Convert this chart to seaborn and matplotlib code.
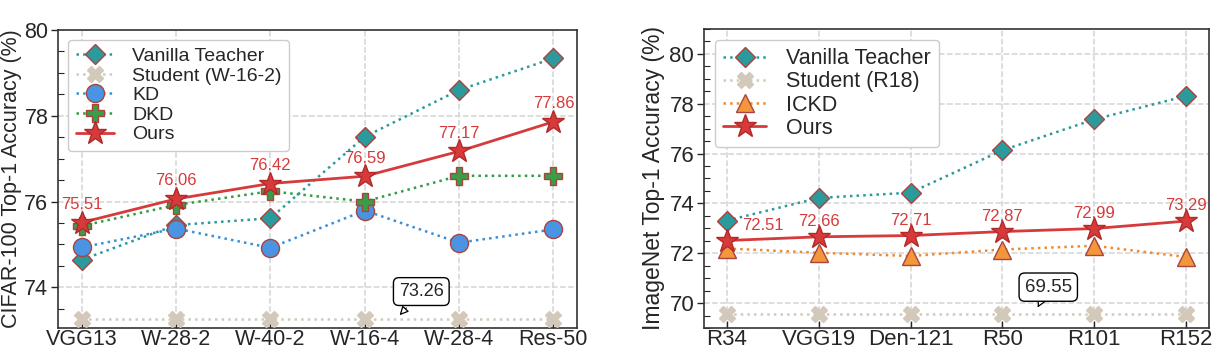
import matplotlib
matplotlib.use("Agg")
import matplotlib.pyplot as plt
from matplotlib.ticker import MultipleLocator
import pandas as pd
import seaborn as sns

# CIFAR-100 panel
cifar_archs = ["VGG13", "W-28-2", "W-40-2", "W-16-4", "W-28-4", "Res-50"]
cifar_teacher = [74.64, 75.45, 75.61, 77.51, 78.60, 79.34]
cifar_student = [73.26, 73.26, 73.26, 73.26, 73.26, 73.26]
cifar_kd = [74.93, 75.37, 74.92, 75.79, 75.04, 75.35]
cifar_dkd = [75.43, 75.92, 76.24, 76.00, 76.60, 76.60]
cifar_ours = [75.51, 76.06, 76.42, 76.59, 77.17, 77.86]

# ImageNet panel
imnet_archs = ["R34", "VGG19", "Den-121", "R50", "R101", "R152"]
imnet_teacher = [73.31, 74.22, 74.43, 76.13, 77.37, 78.31]
imnet_student = [69.55, 69.55, 69.55, 69.55, 69.55, 69.55]
imnet_ickd = [72.19, 72.02, 71.89, 72.15, 72.30, 71.85]
imnet_ours = [72.51, 72.66, 72.71, 72.87, 72.99, 73.29]

EDGE = "#a8453f"
STYLE = {
    "teacher": dict(color="#2a9a9c", marker="D", ms=10.5, ls=":", mfc="#2a9a9c"),
    "student": dict(color="#d3c9bb", marker="X", ms=11, ls=":", mfc="#d3c9bb", mec="#d3c9bb"),
    "kd":      dict(color="#3a8fd8", marker="o", ms=13, ls=":", mfc="#4b93e3"),
    "dkd":     dict(color="#2f9c46", marker="P", ms=13, ls=":", mfc="#3a9d48"),
    "ickd":    dict(color="#f08a30", marker="^", ms=13, ls=":", mfc="#f4963c"),
    "ours":    dict(color="#d63a3a", marker="*", ms=17, ls="-", mfc="#d63a3a", mec="#b02a2a"),
}

sns.set_style("whitegrid", {
    "grid.linestyle": "--",
    "grid.color": "#d4d4d4",
    "axes.edgecolor": "#333333",
    "axes.linewidth": 1.2,
})
plt.rcParams["font.family"] = ["Liberation Sans", "DejaVu Sans"]


def draw(ax, archs, series, lims, ticksize, legsize):
    for key, label, vals in series:
        st = STYLE[key]
        df = pd.DataFrame({"arch": archs, "acc": vals})
        lw = 2.0 if key == "ours" else 1.8
        sns.lineplot(
            data=df, x="arch", y="acc", sort=False, ax=ax, label=label,
            color=st["color"], marker=st["marker"], markersize=st["ms"],
            linestyle=st["ls"], linewidth=lw,
            markerfacecolor=st["mfc"], markeredgecolor=st.get("mec", EDGE),
            markeredgewidth=1.0, zorder=3 if key != "ours" else 4,
        )
    ax.set_xlim(-0.25, len(archs) - 0.75)
    ax.set_ylim(*lims)
    ax.yaxis.set_major_locator(MultipleLocator(2))
    ax.yaxis.set_minor_locator(MultipleLocator(0.5))
    ax.tick_params(axis="y", which="major", direction="out", length=5,
                   width=1, labelsize=ticksize, left=True, pad=2)
    ax.tick_params(axis="y", which="minor", direction="in", length=4,
                   width=0.8, left=True)
    ax.tick_params(axis="x", which="major", direction="in", length=5,
                   width=1, labelsize=ticksize, bottom=True, pad=0.5)
    ax.set_xlabel("")
    ax.grid(True, which="major", linestyle="--", color="#d4d4d4", linewidth=1.1)
    for sp in ax.spines.values():
        sp.set_color("#333333")
        sp.set_linewidth(1.2)
    ax.legend(loc="upper left", fontsize=legsize, labelspacing=0.1,
              handlelength=2.0, handletextpad=0.9, borderpad=0.4,
              frameon=True, facecolor="white", edgecolor="#cccccc",
              fancybox=True, framealpha=1.0, borderaxespad=0.5)


fig = plt.figure(figsize=(12.16, 3.51), dpi=100)
ax1 = fig.add_axes([0.0477, 0.0655, 0.4268, 0.849])
ax2 = fig.add_axes([0.5789, 0.0655, 0.4153, 0.852])

draw(ax1, cifar_archs, [
    ("teacher", "Vanilla Teacher", cifar_teacher),
    ("student", "Student (W-16-2)", cifar_student),
    ("kd", "KD", cifar_kd),
    ("dkd", "DKD", cifar_dkd),
    ("ours", "Ours", cifar_ours),
], (73.05, 80.0), 15.5, 14)
ax1.set_ylabel("CIFAR-100 Top-1 Accuracy (%)", fontsize=15.5, labelpad=2)

draw(ax2, imnet_archs, [
    ("teacher", "Vanilla Teacher", imnet_teacher),
    ("student", "Student (R18)", imnet_student),
    ("ickd", "ICKD", imnet_ickd),
    ("ours", "Ours", imnet_ours),
], (69.0, 81.0), 16, 15.5)
ax2.set_ylabel("ImageNet Top-1 Accuracy (%)", fontsize=16.5, labelpad=3)

# value labels for Ours
for i, v in enumerate(cifar_ours):
    ax1.annotate(f"{v:.2f}", (i, v), xytext=(0, 13), textcoords="offset points",
                 ha="center", va="center", fontsize=12, color="#d63a3a", zorder=5)
for i, v in enumerate(imnet_ours):
    off = (26, 11) if i == 0 else (0, 11)
    ax2.annotate(f"{v:.2f}", (i, v), xytext=off, textcoords="offset points",
                 ha="center", va="center", fontsize=12, color="#d63a3a", zorder=5)

# student callouts
box = dict(boxstyle="round,pad=0.3", fc="white", ec="black", lw=1.0)
arrow = dict(arrowstyle="-|>", fc="white", ec="black", lw=0.9)
ax1.annotate(f"{cifar_student[0]:.2f}", xy=(3.35, 73.3), xytext=(3.6, 73.9),
             ha="center", va="center", fontsize=13, bbox=box, arrowprops=arrow)
ax2.annotate(f"{imnet_student[0]:.2f}", xy=(3.37, 69.72), xytext=(3.5, 70.64),
             ha="center", va="center", fontsize=13.5, bbox=box, arrowprops=arrow)

fig.savefig("out.png", dpi=100)
